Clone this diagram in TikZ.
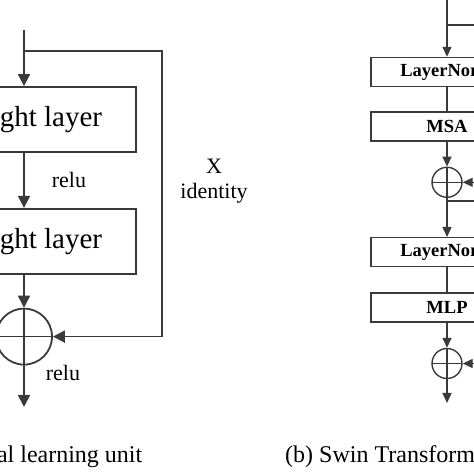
\documentclass[tikz,border=0pt]{standalone}
\usepackage{fontspec}
\setmainfont{Liberation Serif}
\usetikzlibrary{arrows.meta,positioning}
\definecolor{linegray}{HTML}{3A3A3A}
\tikzset{%
    >={Triangle[width=12pt,length=12pt]},
    base/.style = {
        rectangle, draw=linegray, inner sep=0pt, text centered
    },
    layerbox/.style = {
        base, line width=1.8pt, minimum width=224pt,
        minimum height=65pt, font=\fontsize{29}{29}\selectfont
    },
    blockbox/.style = {
        base, line width=1.4pt, minimum width=152pt,
        minimum height=29pt, font=\fontsize{18.5}{18.5}\selectfont\bfseries
    },
    plusring/.style = {
        circle, draw=linegray, inner sep=0pt,
        path picture={
            \draw[linegray, line width=#1]
                (path picture bounding box.north) -- (path picture bounding box.south)
                (path picture bounding box.west) -- (path picture bounding box.east);
        }
    },
    sumbig/.style = {plusring=1.8pt, line width=1.8pt, minimum size=56pt},
    sumsmall/.style = {plusring=1.4pt, line width=1.4pt, minimum size=30pt},
    linkA/.style = {draw=linegray, line width=1.8pt},
    linkB/.style = {
        draw=linegray, line width=1.4pt,
        >={Triangle[width=9pt,length=10pt]}
    },
    tag/.style = {inner sep=0pt, font=\fontsize{22}{22}\selectfont},
    capt/.style = {inner sep=0pt, font=\fontsize{24}{24}\selectfont},
}
\begin{document}
\begin{tikzpicture}[x=1pt, y=1pt]
    \useasboundingbox (0,0) rectangle (474,474);
    \clip (0,0) rectangle (474,474);
    % (a) residual unit
    \node (wl1)  [layerbox] at (24,354.5) {\hspace*{8pt}Weight layer};
    \node (wl2)  [layerbox, below=55pt of wl1] {\hspace*{8pt}Weight layer};
    \node (addA) [sumbig, below=33pt of wl2] {};
    \coordinate (inA)    at (24,444);
    \coordinate (splitA) at (24,423);
    \coordinate (skipA)  at (162,423);
    \coordinate (outA)   at (24,67);

    \node (relu1) [tag] at (69,294) {relu};
    \node (relu2) [tag] at (63,101) {relu};
    \node (xmark) [tag] at (214,308) {X};
    \node (ident) [tag] at (214,281) {identity};

    \draw[linkA, ->] (inA) -- (wl1);
    \draw[linkA, ->] (wl1) -- (wl2);
    \draw[linkA, ->] (wl2) -- (addA);
    \draw[linkA, ->] (splitA) -- (skipA) |- (addA);
    \draw[linkA, ->] (addA) -- (outA);

    % (b) Swin block
    \node (ln1)   [blockbox] at (447,402) {LayerNorm};
    \node (msa)   [blockbox, below=24pt of ln1] {MSA};
    \node (addB1) [sumsmall, below=25pt of msa] {};
    \node (ln2)   [blockbox, below=39pt of addB1] {LayerNorm};
    \node (mlp)   [blockbox, below=25pt of ln2] {MLP};
    \node (addB2) [sumsmall, below=25pt of mlp] {};
    \coordinate (inB)    at (447,480);
    \coordinate (splitB) at (447,449);
    \coordinate (skipB)  at (495,449);
    \coordinate (splitC) at (447,273);
    \coordinate (skipC)  at (495,273);
    \coordinate (outB)   at (447,71);

    \draw[linkB, ->] (inB) -- (ln1);
    \draw[linkB] (ln1) -- (msa);
    \draw[linkB, ->] (msa) -- (addB1);
    \draw[linkB, ->] (addB1) -- (ln2);
    \draw[linkB] (ln2) -- (mlp);
    \draw[linkB, ->] (mlp) -- (addB2);
    \draw[linkB, ->] (addB2) -- (outB);
    \draw[linkB, ->] (splitB) -- (skipB) |- (addB1);
    \draw[linkB, ->] (splitC) -- (skipC) |- (addB2);

    % captions
    \node (captA) [capt, anchor=base] at (20,12) {(a) Residual learning unit};
    \node (captB) [capt, anchor=base west] at (285,12) {(b) Swin Transformer block};
\end{tikzpicture}
\end{document}
